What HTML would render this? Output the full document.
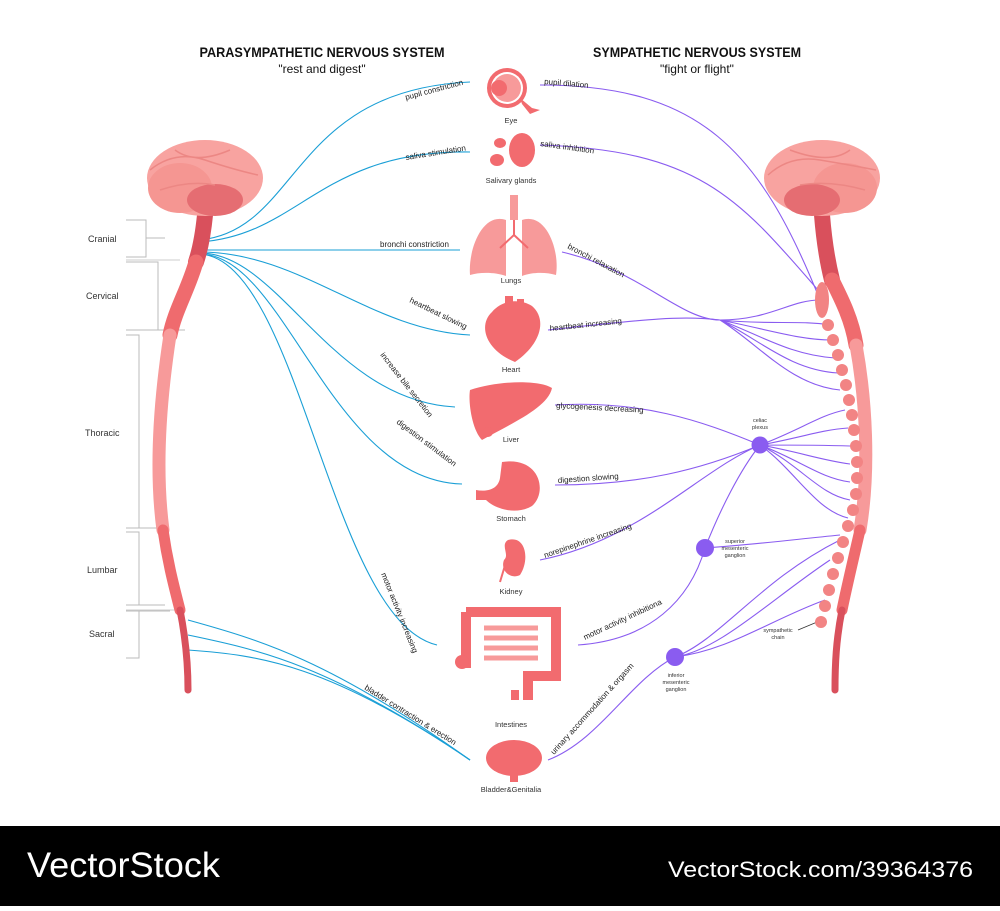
<!DOCTYPE html>
<html><head><meta charset="utf-8"><style>
body{margin:0;background:#fff;width:1000px;height:906px;overflow:hidden;font-family:"Liberation Sans",sans-serif}
</style></head><body>
<svg width="1000" height="906" viewBox="0 0 1000 906" xmlns="http://www.w3.org/2000/svg" font-family="Liberation Sans, sans-serif">
<rect width="1000" height="906" fill="#fff"/>
<g font-weight="bold" font-size="14" text-anchor="middle" fill="#111">
<text x="322" y="57" textLength="245" lengthAdjust="spacingAndGlyphs">PARASYMPATHETIC NERVOUS SYSTEM</text>
<text x="697" y="57" textLength="208" lengthAdjust="spacingAndGlyphs">SYMPATHETIC NERVOUS SYSTEM</text>
</g>
<g font-size="12" text-anchor="middle" fill="#111">
<text x="322" y="73">"rest and digest"</text>
<text x="697" y="73">"fight or flight"</text>
</g>
<g font-size="9" fill="#333">
<text x="88" y="242">Cranial</text><text x="86" y="299">Cervical</text><text x="85" y="436">Thoracic</text><text x="87" y="573">Lumbar</text><text x="89" y="637">Sacral</text>
</g>
<g stroke="#bbb" fill="none" stroke-width="1">
<path d="M126 220H146V257H126M146 238H165"/>
<path d="M126 262H158V330H126M158 330H185"/>
<path d="M126 335H139V528H126M139 528H158"/>
<path d="M126 532H139V605H126M139 605H165"/>
<path d="M126 611H139V658H126M139 611H170"/>
<path d="M126 260H180M126 610H175" stroke="#ccc"/>
</g>
<g stroke="#1a9fd6" stroke-width="1.1" fill="none">
<path d="M200 240C300 230 290 90 470 82"/>
<path d="M200 242C300 235 320 150 470 152"/>
<path d="M200 250H460"/>
<path d="M200 252C300 252 370 330 470 335"/>
<path d="M200 253C280 253 330 400 455 407"/>
<path d="M200 254C285 254 330 480 462 484"/>
<path d="M200 254C300 260 330 620 437 645"/>
<path d="M188 620C260 640 330 660 470 760"/>
<path d="M188 635C260 650 330 665 470 760"/>
<path d="M188 650C260 655 330 665 470 760"/>
</g>
<g stroke="#8a5cf0" stroke-width="1.1" fill="none">
<path d="M540 85C700 85 760 150 820 300"/>
<path d="M540 145C700 150 740 200 818 290"/>
<path d="M562 252C640 270 680 320 720 320"/>
<path d="M548 330C640 320 680 315 720 320"/>
<path d="M720 320C770 320 790 300 820 300M720 320C770 325 800 320 830 325M720 320C770 330 800 340 832 340M720 320C760 335 790 355 835 358M720 320C760 340 790 370 838 373M720 320C760 345 790 385 840 390"/>
<path d="M555 405C640 400 700 420 760 445"/>
<path d="M555 485C640 485 700 470 760 445"/>
<path d="M540 560C640 540 700 470 760 445"/>
<path d="M760 445C800 430 820 415 845 410M760 445C800 438 820 430 848 428M760 445C800 445 820 445 850 446M760 445C800 452 820 460 850 464M760 445C800 460 820 478 850 482M760 445C800 465 820 495 850 500M760 445C795 470 815 510 848 518"/>
<path d="M760 445C740 470 720 510 705 548"/>
<path d="M578 645C650 640 690 600 705 548"/>
<path d="M705 548C750 545 790 540 840 535"/>
<path d="M548 760C600 740 630 680 675 657"/>
<path d="M675 657C720 640 760 580 840 540M675 657C720 650 770 600 830 560M675 657C730 650 770 620 825 600"/>
</g>
<circle cx="760" cy="445" r="8.5" fill="#8a5cf0"/>
<circle cx="705" cy="548" r="9" fill="#8a5cf0"/>
<circle cx="675" cy="657" r="9" fill="#8a5cf0"/>
<g font-size="8" fill="#222">
<text transform="translate(406 100) rotate(-15)">pupil constriction</text>
<text transform="translate(406 160) rotate(-9)">saliva stimulation</text>
<text x="380" y="247">bronchi constriction</text>
<text transform="translate(409 302) rotate(26)">heartbeat slowing</text>
<text transform="translate(380 355) rotate(52)">increase bile secretion</text>
<text transform="translate(396 423) rotate(37)">digestion stimulation</text>
<text transform="translate(381 574) rotate(68)">motor activity increasing</text>
<text transform="translate(364 689) rotate(32)">bladder contraction &amp; erection</text>
<text transform="translate(544 84) rotate(5)">pupil dilation</text>
<text transform="translate(540 146) rotate(8)">saliva inhibition</text>
<text transform="translate(567 248) rotate(28)">bronchi relaxation</text>
<text transform="translate(550 331) rotate(-6)">heartbeat increasing</text>
<text transform="translate(556 408) rotate(3)">glycogenesis decreasing</text>
<text transform="translate(558 483) rotate(-4)">digestion slowing</text>
<text transform="translate(545 558) rotate(-19)">norepinephrine increasing</text>
<text transform="translate(585 640) rotate(-25)">motor activity inhibitiona</text>
<text transform="translate(554 755) rotate(-48)">urinary accommodation &amp; orgasm</text>
</g>
<g font-size="5.5" fill="#333" text-anchor="middle">
<text x="760" y="422">celiac</text><text x="760" y="429">plexus</text>
<text x="735" y="543">superior</text><text x="735" y="550">mesenteric</text><text x="735" y="557">ganglion</text>
<text x="676" y="677">inferior</text><text x="676" y="684">mesenteric</text><text x="676" y="691">ganglion</text>
<text x="778" y="632">sympathetic</text><text x="778" y="639">chain</text>
</g>
<path d="M798 630L822 620" stroke="#333" stroke-width="0.8"/>
<g fill="none" stroke-linecap="round">
<path d="M205 215C203 235 200 250 196 262" stroke="#d9505c" stroke-width="16"/>
<path d="M196 262C188 290 175 310 170 335" stroke="#ef6b6e" stroke-width="15"/>
<path d="M170 335C160 400 155 470 163 530" stroke="#f79a9a" stroke-width="13"/>
<path d="M163 530C168 565 175 590 180 610" stroke="#ef6b6e" stroke-width="11"/>
<path d="M180 610C186 640 188 665 188 690" stroke="#d9505c" stroke-width="7"/>
</g>
<g fill="none" stroke-linecap="round">
<path d="M822 215C824 240 827 260 832 280" stroke="#d9505c" stroke-width="16"/>
<path d="M832 280C842 300 852 320 856 345" stroke="#ef6b6e" stroke-width="15"/>
<path d="M856 345C866 400 870 470 860 530" stroke="#f79a9a" stroke-width="13"/>
<path d="M860 530C852 565 846 590 842 610" stroke="#ef6b6e" stroke-width="11"/>
<path d="M842 610C836 640 835 665 835 690" stroke="#d9505c" stroke-width="7"/>
</g>
<g fill="#f28484">
<ellipse cx="822" cy="300" rx="7" ry="18"/>
<circle cx="828" cy="325" r="6"/><circle cx="833" cy="340" r="6"/><circle cx="838" cy="355" r="6"/><circle cx="842" cy="370" r="6"/><circle cx="846" cy="385" r="6"/><circle cx="849" cy="400" r="6"/><circle cx="852" cy="415" r="6"/><circle cx="854" cy="430" r="6"/><circle cx="856" cy="446" r="6"/><circle cx="857" cy="462" r="6"/><circle cx="857" cy="478" r="6"/><circle cx="856" cy="494" r="6"/><circle cx="853" cy="510" r="6"/><circle cx="848" cy="526" r="6"/><circle cx="843" cy="542" r="6"/><circle cx="838" cy="558" r="6"/><circle cx="833" cy="574" r="6"/><circle cx="829" cy="590" r="6"/><circle cx="825" cy="606" r="6"/><circle cx="821" cy="622" r="6"/>
</g>
<g>
<ellipse cx="205" cy="178" rx="58" ry="38" fill="#f8a3a0"/>
<ellipse cx="180" cy="188" rx="32" ry="25" fill="#f59692"/>
<ellipse cx="215" cy="200" rx="28" ry="16" fill="#e56d72"/>
<path d="M150 170Q175 150 205 160T258 175M160 190Q190 180 215 185M175 150Q195 165 230 150" stroke="#ec8784" fill="none" stroke-width="1.5"/>
<ellipse cx="822" cy="178" rx="58" ry="38" fill="#f8a3a0"/>
<ellipse cx="845" cy="188" rx="32" ry="25" fill="#f59692"/>
<ellipse cx="812" cy="200" rx="28" ry="16" fill="#e56d72"/>
<path d="M768 175Q790 155 820 160T876 170M800 185Q830 180 865 190M790 150Q830 165 850 150" stroke="#ec8784" fill="none" stroke-width="1.5"/>
</g>
<g fill="#f26b6f">
<!-- eye -->
<circle cx="507" cy="88" r="20"/><circle cx="507" cy="88" r="16" fill="#fff"/><circle cx="507" cy="88" r="14" fill="#f79a9a"/><circle cx="499" cy="88" r="8"/><path d="M520 98L532 108L540 110L530 114L522 104Z"/>
<!-- salivary -->
<ellipse cx="522" cy="150" rx="13" ry="17"/><ellipse cx="500" cy="143" rx="6" ry="5"/><ellipse cx="497" cy="160" rx="7" ry="6"/>
<!-- lungs -->
<rect x="510" y="195" width="8" height="25" fill="#f79a9a"/>
<path d="M506 220C482 212 468 250 470 275C480 272 495 272 506 276Z" fill="#f79a9a"/>
<path d="M522 220C546 212 560 250 556 275C546 272 532 272 522 276Z" fill="#f79a9a"/>
<path d="M514 220V235L500 248M514 235L528 248" stroke="#f26b6f" stroke-width="2" fill="none"/>
<!-- heart -->
<path d="M492 312C478 325 485 350 515 362C540 345 548 320 532 306C520 298 502 300 492 312Z"/>
<rect x="505" y="296" width="8" height="14"/><rect x="517" y="299" width="7" height="11"/>
<!-- liver -->
<path d="M470 390C500 380 540 380 552 388C548 408 510 424 482 440C472 430 468 402 470 390Z"/>
<circle cx="488" cy="432" r="5"/>
<!-- stomach -->
<path d="M502 462C540 456 548 492 532 506C515 516 494 508 486 500L476 500V490C486 492 498 490 500 478Z"/>
<!-- kidney -->
<path d="M508 540C526 535 530 560 520 575C510 580 500 570 504 560C510 555 500 545 508 540Z"/>
<path d="M506 562L500 582" stroke="#f26b6f" stroke-width="2"/>
<!-- intestines -->
<path d="M466 612H556V676H528V700" stroke="#f26b6f" stroke-width="10" fill="none"/>
<path d="M466 612V668" stroke="#f26b6f" stroke-width="10" fill="none"/>
<circle cx="462" cy="662" r="7"/>
<path d="M484 628H538M484 638H538M484 648H538M484 658H538" stroke="#f79a9a" stroke-width="5" fill="none"/>
<path d="M515 700V690" stroke="#f26b6f" stroke-width="8"/>
<!-- bladder -->
<ellipse cx="514" cy="758" rx="28" ry="18"/><rect x="510" y="772" width="8" height="10"/>
</g>
<g font-size="7.5" fill="#333" text-anchor="middle">
<text x="511" y="123">Eye</text><text x="511" y="183">Salivary glands</text><text x="511" y="283">Lungs</text><text x="511" y="372">Heart</text><text x="511" y="442">Liver</text><text x="511" y="521">Stomach</text><text x="511" y="594">Kidney</text><text x="511" y="727">Intestines</text><text x="511" y="792">Bladder&amp;Genitalia</text>
</g>
<rect x="0" y="826" width="1000" height="80" fill="#000"/>
<text x="27" y="877" font-size="35" fill="#fff" textLength="193" lengthAdjust="spacingAndGlyphs">VectorStock</text>
<text x="668" y="877" font-size="22" fill="#fff" textLength="305" lengthAdjust="spacingAndGlyphs">VectorStock.com/39364376</text>
</svg>
</body></html>
